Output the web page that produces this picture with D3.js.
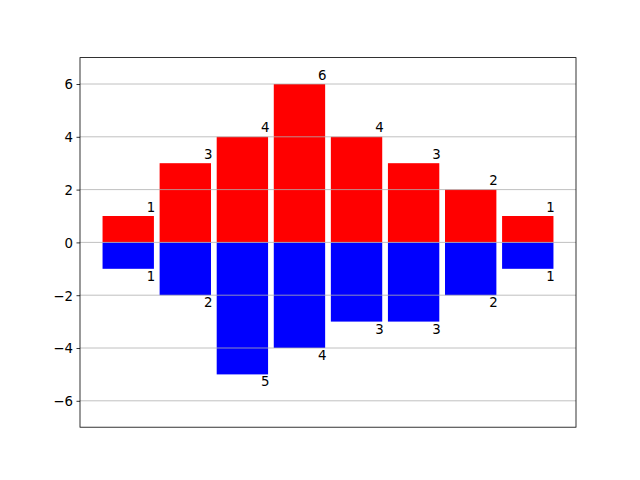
<!DOCTYPE html>
<html><head><meta charset="utf-8">
<script src="https://cdn.jsdelivr.net/npm/d3@7"></script>
<style>body{margin:0;background:#fff}svg{display:block}text{font-family:"DejaVu Sans";font-size:13.33px;fill:#000}</style>
</head><body>
<script>
const categories = [0,1,2,3,4,5,6,7];
const upValues = [1,3,4,6,4,3,2,1];
const downValues = [-1,-2,-5,-4,-3,-3,-2,-1];
const yTicks = [-6,-4,-2,0,2,4,6];

const W=640,H=480, L=80, R=576, T=57.6, B=427.2;
const svg=d3.select("body").append("svg").attr("width",W).attr("height",H);
const x=d3.scaleLinear().domain([-0.845,7.845]).range([L,R]);
const y=d3.scaleLinear().domain([-7,7]).range([B,T]);
const bw=0.9;

// bars
svg.append("g").selectAll("rect").data(categories).join("rect")
 .attr("x",(d)=>x(d-bw/2)).attr("width",(d)=>x(d+bw/2)-x(d-bw/2))
 .attr("y",(d,i)=>y(upValues[i])).attr("height",(d,i)=>y(0)-y(upValues[i]))
 .attr("fill","#ff0000");
svg.append("g").selectAll("rect").data(categories).join("rect")
 .attr("x",(d)=>x(d-bw/2)).attr("width",(d)=>x(d+bw/2)-x(d-bw/2))
 .attr("y",y(0)).attr("height",(d,i)=>y(downValues[i])-y(0))
 .attr("fill","#0000ff");

// grid (drawn above bars)
svg.append("g").selectAll("line").data(yTicks).join("line")
 .attr("x1",L).attr("x2",R).attr("y1",d=>y(d)).attr("y2",d=>y(d))
 .attr("stroke","#b0b0b0").attr("stroke-width",0.8);

// labels
svg.append("g").selectAll("text").data(categories).join("text")
 .attr("x",d=>x(d+0.4)).attr("y",(d,i)=>y(upValues[i]+0.05)-3.1)
 .attr("text-anchor","middle").text((d,i)=>upValues[i]);
svg.append("g").selectAll("text").data(categories).join("text")
 .attr("x",d=>x(d+0.4)).attr("y",(d,i)=>y(downValues[i]-0.05)+10.7)
 .attr("text-anchor","middle").text((d,i)=>Math.abs(downValues[i]));

// y axis
const ax=svg.append("g").attr("transform",`translate(${L},0)`)
 .call(d3.axisLeft(y).tickValues(yTicks).tickSize(3.5).tickPadding(3.5)
   .tickFormat(d=>d<0?"\u2212"+Math.abs(d):String(d)));
ax.select(".domain").remove();
ax.selectAll(".tick line").attr("stroke","#000").attr("stroke-width",0.8);
ax.selectAll(".tick text").attr("font-family","DejaVu Sans").attr("font-size",13.33).attr("fill","#000").attr("dy","0.36em");

// frame
svg.append("rect").attr("x",L).attr("y",T).attr("width",R-L).attr("height",B-T)
 .attr("fill","none").attr("stroke","#000").attr("stroke-width",0.8);
</script>
</body></html>
